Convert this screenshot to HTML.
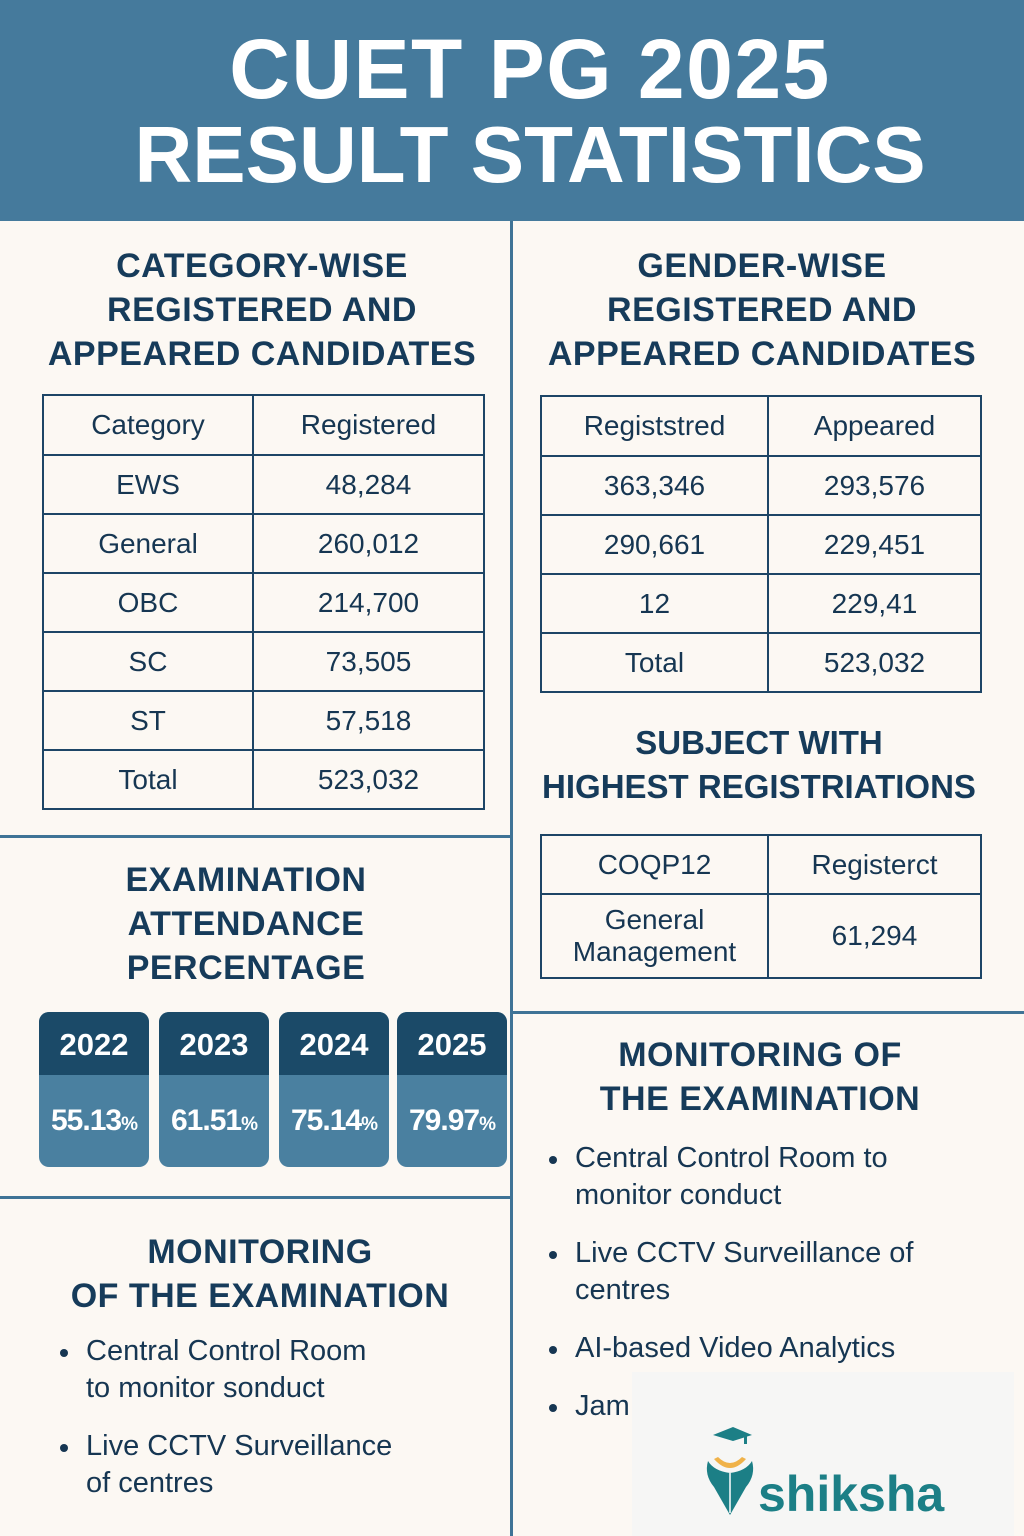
<!DOCTYPE html>
<html><head><meta charset="utf-8"><style>
*{margin:0;padding:0;box-sizing:border-box}
body{width:1024px;height:1536px;background:#fcf8f3;font-family:"Liberation Sans","DejaVu Sans",sans-serif;color:#163652;position:relative;overflow:hidden}
.a{position:absolute}
.h{font-weight:bold;text-align:center;color:#163b5a;font-size:34px;line-height:44px;letter-spacing:0.5px}
table{position:absolute;border-collapse:collapse;table-layout:fixed}
td{border:2px solid #1d4566;text-align:center;font-size:28px;color:#163652;padding:0}
.card{position:absolute;top:1012px;width:110px;height:155px;border-radius:10px;overflow:hidden;background:#4a80a0;color:#fff;font-weight:bold;text-align:center}
.card .y{background:#1b4a68;height:63px;line-height:66px;font-size:31px}
.card .p{line-height:92px;font-size:30px;letter-spacing:-1px}
.card .p small{font-size:19px}
ul{position:absolute;list-style:none;font-size:29px;line-height:37px;color:#163652}
li{position:relative;padding-left:26px;margin-bottom:21px}
li:before{content:"";position:absolute;left:0;top:16px;width:8px;height:8px;border-radius:50%;background:#163652}
.line{position:absolute;background:#3f7396}
.t{position:absolute;left:0;width:1060px;text-align:center;color:#fff;font-weight:bold;height:86px;line-height:86px}
</style></head><body>
<div class="a" style="left:0;top:0;width:1024px;height:221px;background:#457a9c"></div>
<div class="t" style="top:26px;font-size:84px;letter-spacing:1.5px">CUET PG 2025</div>
<div class="t" style="top:112px;font-size:80px">RESULT STATISTICS</div>

<div class="line" style="left:510px;top:221px;width:3px;height:1315px"></div>
<div class="line" style="left:0;top:835px;width:511px;height:3px"></div>
<div class="line" style="left:0;top:1196px;width:511px;height:3px"></div>
<div class="line" style="left:511px;top:1011px;width:513px;height:3px"></div>

<div class="a h" style="left:30px;top:244px;width:464px">CATEGORY-WISE<br>REGISTERED AND<br>APPEARED CANDIDATES</div>
<table style="left:42px;top:394px;width:443px">
<colgroup><col style="width:210px"><col></colgroup>
<tr style="height:60px"><td>Category</td><td>Registered</td></tr>
<tr style="height:59px"><td>EWS</td><td>48,284</td></tr>
<tr style="height:59px"><td>General</td><td>260,012</td></tr>
<tr style="height:59px"><td>OBC</td><td>214,700</td></tr>
<tr style="height:59px"><td>SC</td><td>73,505</td></tr>
<tr style="height:59px"><td>ST</td><td>57,518</td></tr>
<tr style="height:59px"><td>Total</td><td>523,032</td></tr>
</table>

<div class="a h" style="left:530px;top:244px;width:464px">GENDER-WISE<br>REGISTERED AND<br>APPEARED CANDIDATES</div>
<table style="left:540px;top:395px;width:442px">
<colgroup><col style="width:227px"><col></colgroup>
<tr style="height:60px"><td>Registstred</td><td>Appeared</td></tr>
<tr style="height:59px"><td>363,346</td><td>293,576</td></tr>
<tr style="height:59px"><td>290,661</td><td>229,451</td></tr>
<tr style="height:59px"><td>12</td><td>229,41</td></tr>
<tr style="height:59px"><td>Total</td><td>523,032</td></tr>
</table>

<div class="a h" style="left:525px;top:721px;width:468px;font-size:33px;letter-spacing:0">SUBJECT WITH<br>HIGHEST REGISTRIATIONS</div>
<table style="left:540px;top:834px;width:442px">
<colgroup><col style="width:227px"><col></colgroup>
<tr style="height:59px"><td>COQP12</td><td>Registerct</td></tr>
<tr style="height:84px"><td style="line-height:32px">General<br>Management</td><td>61,294</td></tr>
</table>

<div class="a h" style="left:0;top:858px;width:492px">EXAMINATION<br>ATTENDANCE<br>PERCENTAGE</div>
<div class="card" style="left:39px"><div class="y">2022</div><div class="p">55.13<small>%</small></div></div>
<div class="card" style="left:159px"><div class="y">2023</div><div class="p">61.51<small>%</small></div></div>
<div class="card" style="left:279px"><div class="y">2024</div><div class="p">75.14<small>%</small></div></div>
<div class="card" style="left:397px"><div class="y">2025</div><div class="p">79.97<small>%</small></div></div>

<div class="a h" style="left:20px;top:1230px;width:480px">MONITORING<br>OF THE EXAMINATION</div>
<ul style="left:60px;top:1333px;width:440px">
<li>Central Control Room<br>to monitor sonduct</li>
<li>Live CCTV Surveillance<br>of centres</li>
</ul>

<div class="a h" style="left:530px;top:1033px;width:460px">MONITORING OF<br>THE EXAMINATION</div>
<ul style="left:549px;top:1140px;width:470px;line-height:37px">
<li>Central Control Room to<br>monitor conduct</li>
<li>Live CCTV Surveillance of<br>centres</li>
<li>AI-based Video Analytics</li>
<li>Jam</li>
</ul>

<div class="a" style="left:632px;top:1372px;width:382px;height:164px;background:#f6f6f5"></div>
<svg class="a" style="left:700px;top:1425px" width="60" height="95" viewBox="0 0 60 95">
<polygon points="13,10 33,2 52,10 33,16" fill="#1c7f86"/><rect x="44" y="10" width="3" height="9" fill="#1c7f86"/>
<path d="M8,36 Q4,50 14,62 L30,90 L46,62 Q56,50 52,36 Q46,46 30,48 Q14,46 8,36Z" fill="#1c7f86"/>
<path d="M14,34 Q30,52 46,34 L42,32 Q30,44 18,32Z" fill="#f0b249"/>
<line x1="30" y1="48" x2="30" y2="88" stroke="#fff" stroke-width="1.5"/>
</svg>
<div class="a" style="left:758px;top:1466px;font-size:50px;font-weight:bold;color:#1c7f86;line-height:56px">shiksha</div>
</body></html>
